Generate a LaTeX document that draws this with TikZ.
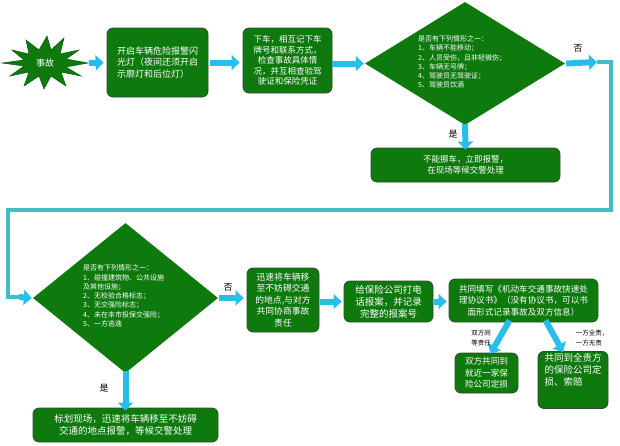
\documentclass[tikz,border=0pt]{standalone}
\usepackage{fontspec}
\setmainfont{Noto Sans CJK SC}
\usetikzlibrary{shapes.geometric,arrows.meta,calc}
\definecolor{boxgreen}{RGB}{14,122,14}
\definecolor{boxedge}{RGB}{45,75,45}
\definecolor{arrowcyan}{RGB}{40,190,236}
\definecolor{linkteal}{RGB}{66,190,196}
\begin{document}
\begin{tikzpicture}[x=1pt,y=-1pt,
  box/.style={draw=boxedge, line width=0.8pt, fill=boxgreen, rounded corners=6pt,
    text=white, font=\fontsize{9}{11.5}\selectfont, align=center, inner sep=2pt},
  dia/.style={diamond, fill=boxgreen, inner sep=0pt},
  diatext/.style={text=white, font=\fontsize{7}{9.3}\selectfont, align=left, inner sep=0pt},
  blk/.style={draw=arrowcyan, line width=6pt, -{Triangle[width=15pt,length=8pt]}},
  tealline/.style={draw=linkteal, line width=4pt},
  lbl/.style={font=\fontsize{9}{10}\selectfont, text=black, inner sep=0pt},
  smalllbl/.style={font=\fontsize{6.5}{10}\selectfont, text=black, align=left, inner sep=0pt},
  bursttext/.style={text=white, font=\fontsize{9}{10}\selectfont, inner sep=0pt},
  burstfill/.style={fill=boxgreen, draw=boxgreen!70!black, line width=0.5pt, line join=miter}
]
\useasboundingbox (0,0) rectangle (620,445);

% burst
\draw[burstfill] (88,63) -- (66,59) -- (79,50) -- (60,54) -- (64,38) -- (51,50) -- (47,36)
  -- (39,50) -- (26,40) -- (29,54) -- (12,50) -- (24,60) -- (2,63) -- (24,66) -- (10,76)
  -- (29,72) -- (24,86) -- (39,76) -- (44,89) -- (51,76) -- (66,86) -- (61,72) -- (81,76)
  -- (66,67) -- cycle;
\node[bursttext] (burst) at (45,63) {事故};
\coordinate (burstE) at (89,63);

% first row
\node[box, align=left, minimum width=101pt, minimum height=69pt] (box1) at (157.5,62.5)
  {开启车辆危险报警闪\\光灯（夜间还须开启\\示廓灯和后位灯）};
\node[box, minimum width=89pt, minimum height=65pt, font=\fontsize{8.5}{10.5}\selectfont] (box2) at (287.5,60.5)
  {下车，相互记下车\\牌号和联系方式，\\检查事故具体情\\况，并互相查验驾\\驶证和保险凭证};
\node[dia, minimum width=200pt, minimum height=123pt] (d1) at (465,63.5) {};
\node[diatext, anchor=west] (d1t) at (418,62)
  {是否有下列情形之一：\\1、车辆不能移动；\\2、人员受伤，且非轻微伤；\\3、车辆无号牌；\\4、驾驶员无驾驶证；\\5、驾驶员饮酒};
\node[box, minimum width=189pt, minimum height=34pt, font=\fontsize{8.5}{11.5}\selectfont] (box3) at (465.5,165)
  {不能挪车，立即报警，\\在现场等候交警处理};

% second row
\node[dia, minimum width=185pt, minimum height=150pt] (d2) at (125.5,298) {};
\node[diatext, anchor=west] (d2t) at (83,296)
  {是否有下列情形之一：\\1、碰撞建筑物、公共设施\\及其他设施；\\2、无检验合格标志；\\3、无交强险标志；\\4、未在本市投保交强险；\\5、一方逃逸};
\node[box, minimum width=72pt, minimum height=64pt, font=\fontsize{8.8}{11.5}\selectfont] (box4) at (283,300)
  {迅速将车辆移\\至不妨碍交通\\的地点,与对方\\共同协商事故\\责任};
\node[box, minimum width=89pt, minimum height=41pt, font=\fontsize{9.5}{12}\selectfont] (box5) at (388.5,301.5)
  {给保险公司打电\\话报案，并记录\\完整的报案号};
\node[box, minimum width=149pt, minimum height=43pt, font=\fontsize{8.6}{11.5}\selectfont] (box6) at (523.5,300.5)
  {共同填写《机动车交通事故快速处\\理协议书》（没有协议书，可以书\\面形式记录事故及双方信息）};
\node[box, minimum width=63pt, minimum height=40pt, font=\fontsize{8.6}{11.5}\selectfont] (box7) at (486.5,373)
  {双方共同到\\就近一家保\\险公司定损};
\node[box, align=left, minimum width=70pt, minimum height=52pt, font=\fontsize{9.5}{12}\selectfont, anchor=north] (box8) at (573,351)
  {共同到全责方\\的保险公司定\\损、索赔\\[9pt]};
\node[box, minimum width=185pt, minimum height=34pt, font=\fontsize{9.5}{12}\selectfont] (box9) at (125.5,425)
  {标划现场，迅速将车辆移至不妨碍\\交通的地点报警，等候交警处理};

% connectors
\coordinate (c1) at (597,62);
\coordinate (t1) at (611,62);
\coordinate (t2) at (611,210);
\coordinate (t3) at (8,210);
\coordinate (t4) at (8,297);
\coordinate (c2) at (20,297);

\draw[blk] (burstE) -- ([xshift=-3pt]box1.west);
\draw[blk] ([xshift=2pt]box1.east) -- ([xshift=-3pt]box2.west |- box1.east);
\draw[blk] (box2.east |- d1.west) -- ([xshift=-1pt]d1.west);
\draw[blk] ([xshift=1pt]d1.east) -- (c1);
\draw[tealline] (c1) -- (t1) -- (t2) -- (t3) -- (t4) -- (c2);
\draw[blk] ([xshift=-1pt]c2) -- ([xshift=-1pt]d2.west);
\draw[blk] ([yshift=1pt]d1.south) -- ([yshift=-2pt]box3.north);
\draw[blk] ([xshift=1pt]d2.east) -- ([xshift=-3pt]box4.west |- d2.east);
\draw[blk] ([xshift=1pt]box4.east |- box5.west) -- ([xshift=-2pt]box5.west);
\draw[blk] ([xshift=1pt]box5.east) -- ([xshift=-2pt]box6.west |- box5.east);
\draw[blk] ([xshift=-14pt,yshift=2pt]box6.south) -- ([xshift=4pt,yshift=-1pt]box7.north);
\draw[blk] ([xshift=22pt,yshift=2pt]box6.south) -- ([xshift=-10pt,yshift=-1pt]box8.north);
\draw[blk] ([yshift=2pt]d2.south) -- ([yshift=-3pt]box9.north);

% labels
\node[lbl] (no1) at (578,48) {否};
\node[lbl] (yes1) at (453,134) {是};
\node[lbl] (no2) at (228,287) {否};
\node[lbl] (yes2) at (104,388) {是};
\node[smalllbl] (eq) at (481,338) {双方同\\等责任};
\node[smalllbl] (full) at (592,338) {一方全责，\\一方无责};
\end{tikzpicture}
\end{document}
